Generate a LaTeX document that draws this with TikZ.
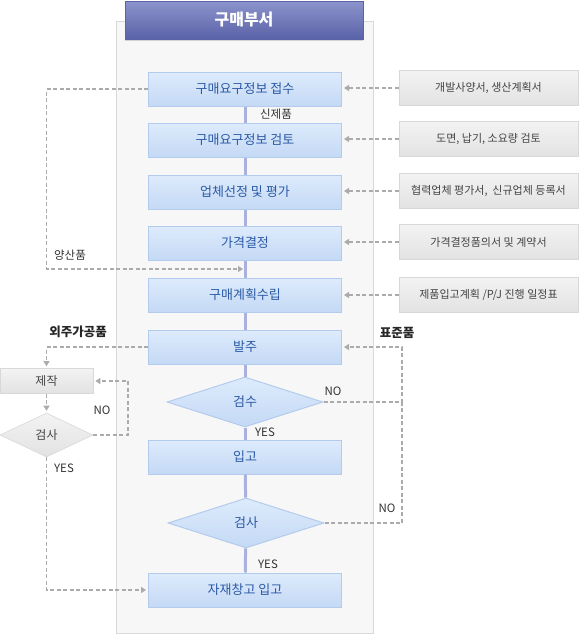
\documentclass[tikz,border=0pt]{standalone}
\usepackage{fontspec}
\setmainfont{Noto Sans CJK KR}
\usepackage{tikz}
\usetikzlibrary{shapes.geometric, arrows.meta, positioning, shadows, calc}

\definecolor{titletop}{HTML}{8C94CC}
\definecolor{titlebot}{HTML}{5A62A8}
\definecolor{paneback}{HTML}{F7F7F7}
\definecolor{paneline}{HTML}{D9D9D9}
\definecolor{steptop}{HTML}{DDEBFC}
\definecolor{stepbot}{HTML}{C4D9F5}
\definecolor{stepline}{HTML}{B3CBEC}
\definecolor{steptext}{HTML}{2A59A6}
\definecolor{doctop}{HTML}{F3F3F3}
\definecolor{docbot}{HTML}{E2E2E2}
\definecolor{docline}{HTML}{D8D8D8}
\definecolor{doctext}{HTML}{444444}
\definecolor{flowline}{HTML}{A9B1DD}
\definecolor{dashgray}{HTML}{ABABAB}

\begin{document}
\begin{tikzpicture}[x=1pt, y=-1pt,
  titlebox/.style={rectangle, top color=titletop, bottom color=titlebot, draw=titlebot, minimum width=238pt, minimum height=38pt, text=white, font=\bfseries\fontsize{16}{18}\selectfont, drop shadow={opacity=0.3, shadow xshift=0pt, shadow yshift=-1.5pt}},
  stepbox/.style={rectangle, draw=stepline, line width=1pt, top color=steptop, bottom color=stepbot, minimum width=193pt, minimum height=34pt, text=steptext, font=\fontsize{13}{15}\selectfont},
  checkbox/.style={diamond, draw=stepline, line width=1pt, top color=steptop, bottom color=stepbot, minimum width=156pt, minimum height=50pt, inner sep=0pt, text=steptext, font=\fontsize{13}{15}\selectfont},
  docbox/.style={rectangle, draw=docline, line width=1pt, top color=doctop, bottom color=docbot, minimum width=179pt, minimum height=35pt, text=doctext, font=\fontsize{11}{13}\selectfont},
  sidebox/.style={rectangle, draw=docline, line width=0.6pt, top color=doctop, bottom color=docbot, minimum width=93pt, minimum height=25pt, text=doctext, font=\fontsize{12}{14}\selectfont},
  sidecheck/.style={diamond, draw=docline, line width=0.6pt, top color=doctop, bottom color=docbot, minimum width=93pt, minimum height=44pt, inner sep=0pt, text=doctext, font=\fontsize{12}{14}\selectfont},
  flow/.style={draw=flowline, line width=3pt},
  dashline/.style={draw=dashgray, line width=1.3pt, dash pattern=on 4pt off 2.5pt},
  dasharrow/.style={dashline, -{Triangle[length=5pt,width=6pt]}, shorten >=2pt},
  tag/.style={font=\fontsize{11.5}{13}\selectfont, text=black!80},
  bigtag/.style={font=\bfseries\fontsize{12.5}{14}\selectfont, text=black!85}
]
\useasboundingbox (0,0) rectangle (585,635);
\fill[paneback, draw=paneline] (116,21) rectangle (373,633);

\node (title) [titlebox] at (244,20) {구매부서};

\node (b1) [stepbox] at (245,89) {구매요구정보 접수};
\node (b2) [stepbox] at (245,140) {구매요구정보 검토};
\node (b3) [stepbox] at (245,192) {업체선정 및 평가};
\node (b4) [stepbox] at (245,243) {가격결정};
\node (b5) [stepbox] at (245,295) {구매계획수립};
\node (b6) [stepbox] at (245,347) {발주};
\node (c1) [checkbox] at (245,402) {검수};
\node (b7) [stepbox] at (245,457) {입고};
\node (c2) [checkbox] at (246,523) {검사};
\node (b8) [stepbox] at (245,590) {자재창고 입고};

\node (d1) [docbox] at (488.5,88) {개발사양서, 생산계획서};
\node (d2) [docbox] at (488.5,139) {도면, 납기, 소요량 검토};
\node (d3) [docbox] at (488.5,191) {협력업체 평가서,\ \ 신규업체 등록서};
\node (d4) [docbox] at (488.5,242) {가격결정품의서 및 계약서};
\node (d5) [docbox] at (488.5,295) {제품입고계획 /P/J 진행 일정표};

\node (jejak) [sidebox] at (46.5,381) {제작};
\node (lcheck) [sidecheck] at (46.5,435) {검사};

\coordinate (leftrail) at (46.5,0);
\coordinate (noloop) at (128,0);
\coordinate (rightrail) at (402,0);
\coordinate (m45) at ($(b4.south)!0.5!(b5.north)$);

\draw[flow] (b1) -- (b2);
\draw[flow] (b2) -- (b3);
\draw[flow] (b3) -- (b4);
\draw[flow] (b4) -- (b5);
\draw[flow] (b5) -- (b6);
\draw[flow] (b6) -- (c1);
\draw[flow] (c1) -- (b7);
\draw[flow] (b7) -- (c2);
\draw[flow] (c2) -- (b8);

\draw[dasharrow] (d1.west) -- (b1.east |- d1.west);
\draw[dasharrow] (d2.west) -- (b2.east |- d2.west);
\draw[dasharrow] (d3.west) -- (b3.east |- d3.west);
\draw[dasharrow] (d4.west) -- (b4.east |- d4.west);
\draw[dasharrow] (d5.west) -- (b5.east |- d5.west);

\draw[dasharrow] (b1.west) -| (leftrail |- m45) -- (m45);
\draw[dasharrow] (b6.west) -| (jejak.north);
\draw[dasharrow] (jejak.south) -- (lcheck.north);
\draw[dasharrow] (lcheck.east) -| (noloop |- jejak.east) -- (jejak.east);
\draw[dasharrow] (lcheck.south) |- (b8.west);

\draw[dasharrow] (c1.east) -| (rightrail |- b6.east) -- (b6.east);
\draw[dashline] (c2.east) -| (rightrail |- c1.east);

\node (lbnew) [tag] at (276,114) {신제품};
\node (lbmass) [tag] at (70,255) {양산품};
\node (lbout) [bigtag] at (78,332) {외주가공품};
\node (lbstd) [bigtag] at (397,333) {표준품};
\node (lbno1) [tag] at (102,410) {NO};
\node (lbyes1) [tag] at (64,468) {YES};
\node (lbno2) [tag] at (333,391) {NO};
\node (lbyes2) [tag] at (265,432) {YES};
\node (lbno3) [tag] at (387,508) {NO};
\node (lbyes3) [tag] at (268,564) {YES};
\end{tikzpicture}
\end{document}
